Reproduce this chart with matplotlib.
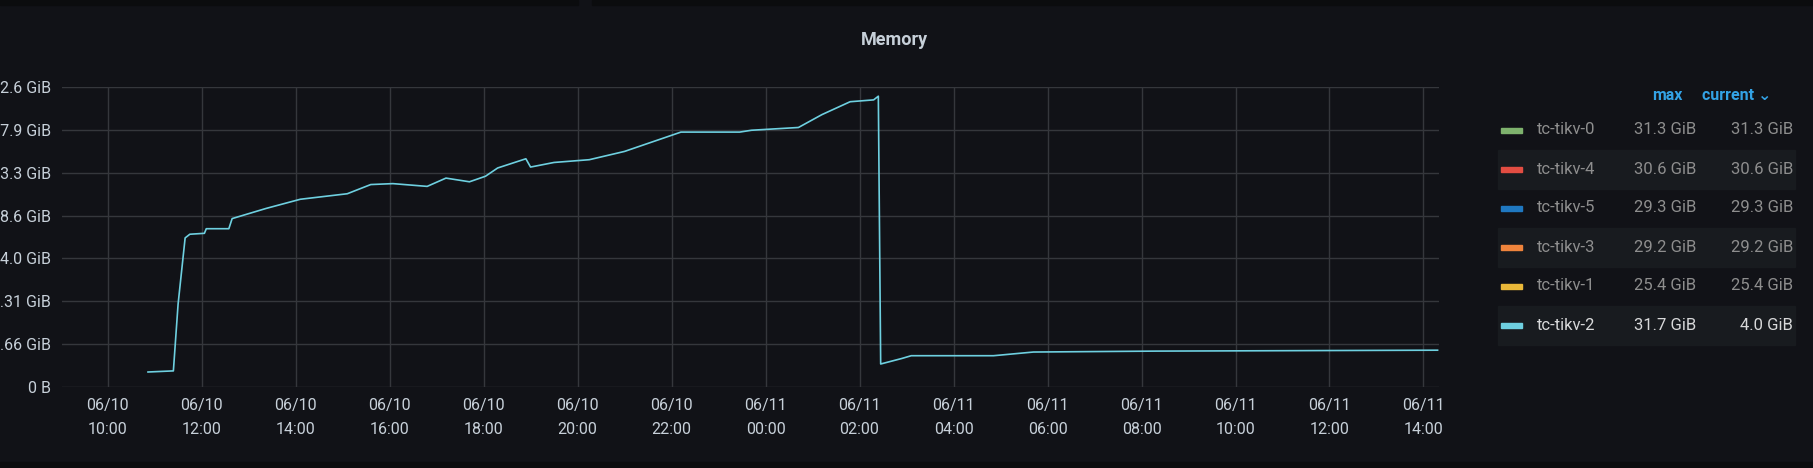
import matplotlib
matplotlib.use("Agg")
from matplotlib import pyplot as plt
from matplotlib.patches import Rectangle

# Hours since 06/10 00:00
hours = [10.86, 11.4, 11.5, 11.65, 11.75, 12.06, 12.1, 12.58, 12.65, 13.37, 14.1, 15.1,
         15.6, 16.07, 16.8, 17.2, 17.7, 18.04, 18.3, 18.9, 19.0, 19.5, 20.25, 21.0,
         22.2, 23.45, 23.7, 24.7, 25.2, 25.8, 26.3, 26.4, 26.45, 26.9, 27.1, 28.85,
         29.7, 32.3, 38.3]
mem_gib = [1.63, 1.75, 9.0, 16.2, 16.6, 16.7, 17.2, 17.2, 18.3, 19.4, 20.4, 21.0,
           22.0, 22.1, 21.8, 22.7, 22.3, 22.9, 23.8, 24.8, 23.9, 24.4, 24.7, 25.6,
           27.7, 27.7, 27.9, 28.2, 29.6, 31.0, 31.2, 31.6, 2.5, 3.1, 3.4, 3.4,
           3.8, 3.9, 4.0]

ytick_vals = [0, 4.66, 9.31, 14.0, 18.6, 23.3, 27.9, 32.6]
ytick_labels = ["0 B", "4.66 GiB", "9.31 GiB", "14.0 GiB", "18.6 GiB", "23.3 GiB", "27.9 GiB", "32.6 GiB"]
xtick_vals = list(range(10, 39, 2))
xtick_labels = ["06/10\n%02d:00" % h if h < 24 else "06/11\n%02d:00" % (h - 24) for h in xtick_vals]

series = ["tc-tikv-0", "tc-tikv-4", "tc-tikv-5", "tc-tikv-3", "tc-tikv-1", "tc-tikv-2"]
colors = ["#7EB26D", "#E24D42", "#1F78C1", "#EF843C", "#EAB839", "#6ED0E0"]
max_vals = ["31.3 GiB", "30.6 GiB", "29.3 GiB", "29.2 GiB", "25.4 GiB", "31.7 GiB"]
cur_vals = ["31.3 GiB", "30.6 GiB", "29.3 GiB", "29.2 GiB", "25.4 GiB", "4.0 GiB"]

W, H = 1813, 468
bg = "#111217"
txt = "#c7d0d9"
plt.rcParams['font.family'] = ['Roboto', 'DejaVu Sans']

fig = plt.figure(figsize=(W / 100, H / 100), dpi=100, facecolor=bg)
# top / bottom panel edges
fig.patches.append(Rectangle((0, 1 - 5 / H), 578 / W, 5 / H, transform=fig.transFigure, color="#0b0c0e"))
fig.patches.append(Rectangle((592 / W, 1 - 5 / H), 1 - 592 / W, 5 / H, transform=fig.transFigure, color="#0b0c0e"))
fig.patches.append(Rectangle((0, 0), 1, 6 / H, transform=fig.transFigure, color="#0b0c0e"))
fig.text(894 / W, 1 - 40 / H, "Memory", color=txt, fontsize=13, fontweight="bold", ha="center", va="center")

ax = fig.add_axes([62 / W, (H - 387) / H, (1439 - 62) / W, 300 / H], facecolor=bg)
ax.plot(hours, mem_gib, color="#6ED0E0", lw=1.2)
ax.set_xlim(9.03, 38.33)
ax.set_ylim(0, 32.6)
ax.set_yticks(ytick_vals)
ax.set_yticklabels(ytick_labels)
ax.set_xticks(xtick_vals)
ax.set_xticklabels(xtick_labels, linespacing=1.7)
ax.grid(True, color="#35373c", lw=1)
ax.tick_params(colors=txt, labelsize=11.5, length=0, pad=8)
for s in ax.spines.values():
    s.set_visible(False)

# legend table
fig.text(1667 / W, 1 - 95 / H, "max", color="#33a2e5", fontsize=11.5, fontweight="bold", ha="center", va="center")
fig.text(1737 / W, 1 - 95 / H, "current \u2304", color="#33a2e5", fontsize=11.5, fontweight="bold", ha="center", va="center")
for i, name in enumerate(series):
    yc = 130 + i * 39
    if i % 2 == 1:
        fig.patches.append(Rectangle((1498 / W, 1 - (yc + 19.5) / H), 297 / W, 39 / H,
                                     transform=fig.transFigure, color="#181b1f"))
    fig.patches.append(Rectangle((1501 / W, 1 - (yc + 2.5) / H), 21 / W, 5 / H,
                                 transform=fig.transFigure, color=colors[i]))
    c = "#d8d9da" if i == 5 else "#8e8e8e"
    fig.text(1537 / W, 1 - yc / H, name, color=c, fontsize=12, ha="left", va="center")
    fig.text(1696 / W, 1 - yc / H, max_vals[i], color=c, fontsize=12, ha="right", va="center")
    fig.text(1793 / W, 1 - yc / H, cur_vals[i], color=c, fontsize=12, ha="right", va="center")

fig.savefig("out.png", dpi=100, facecolor=bg)
